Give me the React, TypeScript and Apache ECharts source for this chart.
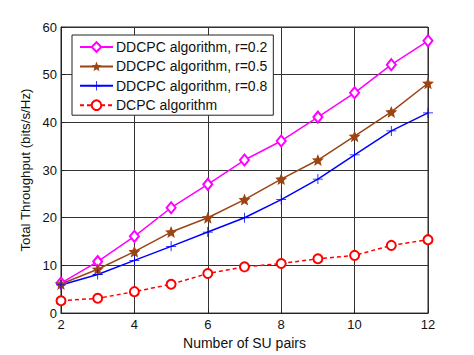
import React, { useEffect, useRef } from "react";
import * as echarts from "echarts";

const suPairs = [2, 3, 4, 5, 6, 7, 8, 9, 10, 11, 12];
const ddcpcR02 = [6.3, 10.8, 16.1, 22.1, 27, 32.1, 36.1, 41.1, 46.2, 52.1, 57.1];
const ddcpcR05 = [6.1, 9.2, 12.9, 17, 20, 23.8, 28.1, 32.1, 37.1, 42.2, 48.2];
const ddcpcR08 = [5.9, 8.1, 11.05, 14, 17, 20, 23.8, 28.1, 33.2, 38.2, 42];
const dcpc = [2.6, 3.1, 4.5, 6.05, 8.3, 9.7, 10.4, 11.4, 12.1, 14.2, 15.4];
const seriesNames = [
  "DDCPC algorithm, r=0.2",
  "DDCPC algorithm, r=0.5",
  "DDCPC algorithm, r=0.8",
  "DCPC algorithm",
];

const STAR =
  "path://M0,-10 L2.6,-3.6 L9.51,-3.09 L4.2,1.4 L5.88,8.09 L0,4.4 L-5.88,8.09 L-4.2,1.4 L-9.51,-3.09 L-2.6,-3.6 Z";
const PLUS =
  "path://M-0.8,-10 L0.8,-10 L0.8,-0.8 L10,-0.8 L10,0.8 L0.8,0.8 L0.8,10 L-0.8,10 L-0.8,0.8 L-10,0.8 L-10,-0.8 L-0.8,-0.8 Z";

const FONT = "Liberation Sans, Arial, sans-serif";

export default function App() {
  const ref = useRef<HTMLDivElement>(null);
  useEffect(() => {
    if (!ref.current) return;
    const chart = echarts.init(ref.current, null, { renderer: "svg" });
    const pair = (ys: number[]) => suPairs.map((x, i) => [x, ys[i]]);
    chart.setOption({
      animation: false,
      backgroundColor: "#ffffff",
      textStyle: { fontFamily: FONT },
      grid: {
        left: 61,
        right: 46,
        top: 27,
        bottom: 40,
        show: true,
        borderColor: "#222",
        borderWidth: 1,
        backgroundColor: "transparent",
      },
      legend: {
        orient: "vertical",
        left: 72,
        top: 35,
        padding: [5, 6, 3, 7],
        itemWidth: 33,
        itemHeight: 12,
        itemGap: 5.4,
        backgroundColor: "#fff",
        borderColor: "#222",
        borderWidth: 1,
        borderRadius: 0,
        textStyle: { fontSize: 14, lineHeight: 12, color: "#111", fontFamily: FONT, padding: [0, 0, 0, -2] },
        data: seriesNames,
      },
      xAxis: {
        type: "value",
        min: 2,
        max: 12,
        interval: 2,
        name: "Number of SU pairs",
        nameLocation: "middle",
        nameGap: 21,
        nameTextStyle: { fontSize: 14, color: "#111", fontFamily: FONT },
        axisLine: { show: true, lineStyle: { color: "#222" } },
        axisTick: { show: true, inside: true, length: 4, lineStyle: { color: "#222" } },
        axisLabel: { fontSize: 13, color: "#111", margin: 5, fontFamily: FONT },
        splitLine: { show: true, lineStyle: { color: "#333", width: 1 } },
      },
      yAxis: {
        type: "value",
        min: 0,
        max: 60,
        interval: 10,
        name: "Total Throughput (bits/s/Hz)",
        nameLocation: "middle",
        nameGap: 23,
        nameTextStyle: { fontSize: 13.3, color: "#111", fontFamily: FONT },
        axisLine: { show: true, lineStyle: { color: "#222" } },
        axisTick: { show: true, inside: true, length: 4, lineStyle: { color: "#222" } },
        axisLabel: { fontSize: 13, color: "#111", margin: 4, fontFamily: FONT },
        splitLine: { show: true, lineStyle: { color: "#333", width: 1 } },
      },
      series: [
        {
          name: seriesNames[0],
          type: "line",
          data: pair(ddcpcR02),
          symbol: "emptyDiamond",
          symbolSize: [9, 11],
          showAllSymbol: true,
          lineStyle: { color: "#ff00ff", width: 1.5 },
          itemStyle: { color: "#ff00ff", borderColor: "#ff00ff", borderWidth: 1.3 },
        },
        {
          name: seriesNames[1],
          type: "line",
          data: pair(ddcpcR05),
          symbol: STAR,
          symbolSize: 12,
          lineStyle: { color: "#9c4414", width: 1.5 },
          itemStyle: { color: "#9c4414" },
        },
        {
          name: seriesNames[2],
          type: "line",
          data: pair(ddcpcR08),
          symbol: PLUS,
          symbolSize: 10,
          lineStyle: { color: "#0000ff", width: 1.5 },
          itemStyle: { color: "#0000ff" },
        },
        {
          name: seriesNames[3],
          type: "line",
          data: pair(dcpc),
          symbol: "emptyCircle",
          symbolSize: 9,
          lineStyle: { color: "#ff0000", width: 1.5, type: [4, 3] },
          itemStyle: { color: "#ff0000", borderColor: "#ff0000", borderWidth: 1.3 },
        },
      ],
    });
    return () => chart.dispose();
  }, []);
  return <div ref={ref} style={{ width: 474, height: 355, position: "absolute", left: 0, top: 0 }} />;
}
